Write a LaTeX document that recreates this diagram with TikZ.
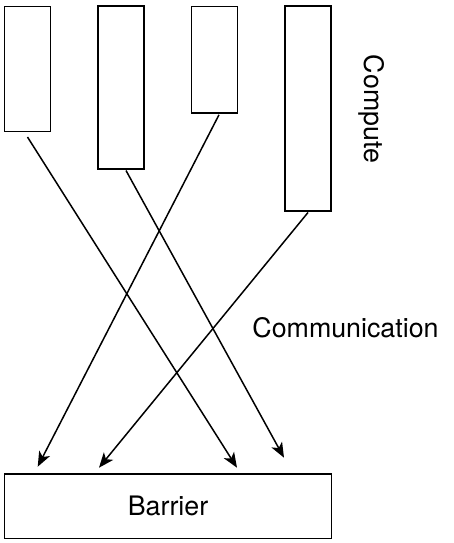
\documentclass[tikz,border=0pt]{standalone}
\usepackage{fontspec}
\setmainfont{TeX Gyre Heros}
\usetikzlibrary{arrows.meta}
\tikzset{
  task/.style={draw,line width=1.5pt,minimum width=45.6pt,inner sep=0pt},
  flow/.style={-{Stealth[length=15pt,width=12pt,inset=4pt]},line width=1.5pt},
}
\begin{document}
\begin{tikzpicture}[x=1pt,y=-1pt,font=\fontsize{26.8}{32}\selectfont]
  \useasboundingbox (0,0) rectangle (454,543);
  \node at (27.5,68.8) [task,minimum height=125pt] (1) {};
  \node at (121,87.5) [task,minimum height=162.5pt] (2) {};
  \node at (214.5,59.7) [task,minimum height=106.7pt] (3) {};
  \node at (308,108.5) [task,minimum height=204.5pt] (4) {};

  \node at (168,506.2) [draw,line width=1.5pt,minimum width=326.6pt,minimum height=64.3pt] (bar) {Barrier};

  \node at (372,109) [rotate=-90] (comp) {Compute};
  \node at (345.5,328) [] (comm) {Communication};

  \coordinate (e1) at (237,467.7);
  \coordinate (e2) at (284,457.7);
  \coordinate (e3) at (37.7,466.7);
  \coordinate (e4) at (99,467.7);

  \draw[flow] ([yshift=-5pt]1.south) -- (e1);
  \draw[flow] ([xshift=5pt,yshift=-1pt]2.south) -- (e2);
  \draw[flow] ([xshift=4.5pt,yshift=-1pt]3.south) -- (e3);
  \draw[flow] ([yshift=-1pt]4.south) -- (e4);
\end{tikzpicture}
\end{document}
